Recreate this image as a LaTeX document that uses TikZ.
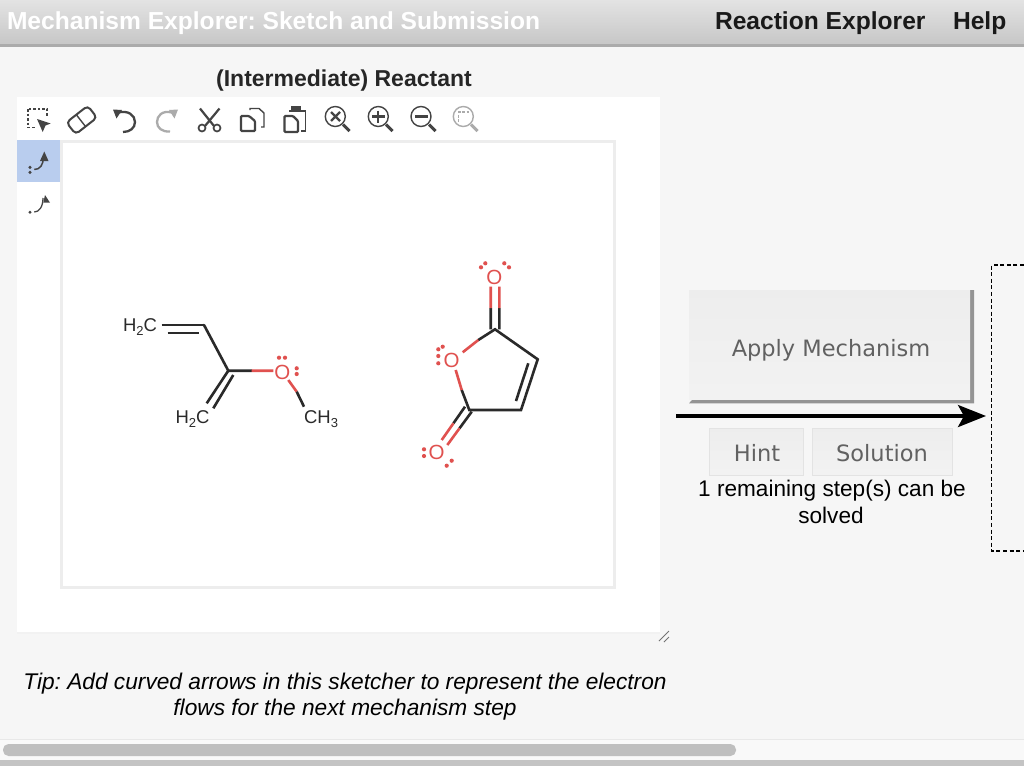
\documentclass[tikz,border=0pt]{standalone}
\usepackage{fontspec}
\setmainfont{Liberation Sans}
\newfontfamily\dejavu{DejaVu Sans}
\usetikzlibrary{arrows.meta}
\definecolor{pagebg}{HTML}{F6F6F6}
\definecolor{atomred}{HTML}{E0514F}
\definecolor{bondblack}{HTML}{2A2A2A}
\definecolor{iconc}{HTML}{444444}
\definecolor{icong}{HTML}{ABABAB}
\definecolor{selblue}{HTML}{B9CDEE}
\newcommand{\fs}[1]{\fontsize{#1}{#1}\selectfont}
\newcommand{\sub}[1]{\raisebox{-4pt}{\fs{13}#1}}
\tikzset{
  txt/.style={inner sep=0pt,outer sep=0pt,anchor=center},
  titlebold/.style={txt,font=\fs{24.6}\bfseries\frenchspacing},
  subbold/.style={txt,font=\fs{23}\bfseries\frenchspacing},
  bodytext/.style={txt,font=\fs{22.6}\frenchspacing,text=black},
  tiptext/.style={txt,font=\fs{22.7}\itshape\frenchspacing,text=black},
  btntext/.style={txt,font=\dejavu\fs{22.5},text=black!62},
  atomlabel/.style={txt,font=\fs{18.5},text=bondblack},
  oxygen/.style={txt,font=\fs{20.5},text=atomred},
  bond/.style={draw=bondblack,line width=2.6pt},
  rbond/.style={draw=atomred,line width=2.6pt},
  lp/.style={fill=atomred,draw=none},
  icon/.style={draw=iconc,line width=1.8pt},
  igray/.style={draw=icong,line width=2pt},
}
\begin{document}
\begin{tikzpicture}[x=1pt,y=-1pt]
\useasboundingbox (0,0) rectangle (1024,766);
\fill[pagebg] (0,0) rectangle (1024,766);
% header
\shade[top color=black!11,bottom color=black!22] (0,0) rectangle (1024,44);
\fill[black!33] (0,44) rectangle (1024,47);
\node[titlebold,text=white,anchor=west] (title) at (7,23) {Mechanism Explorer: Sketch and Submission};
\node[titlebold,text=black!90,anchor=west] (rex) at (715,23) {Reaction Explorer};
\node[titlebold,text=black!90,anchor=west] (help) at (953,23) {Help};
\node[subbold,text=black!85] (rt) at (344,80.5) {(Intermediate) Reactant};
% panel
\fill[black!5] (17,632) rectangle (660,634);
\fill[white] (17,97) rectangle (660,632);
\fill[black!6] (17,140) rectangle (616,142);
\fill[selblue] (17,140) rectangle (60,182);
\draw[black!7,line width=3pt] (61.5,141.5) rectangle (614.5,587.5);
\draw[black!55,line width=.9pt] (659,641) -- (669,631) (664,642) -- (669,637);
% select icon
\draw[iconc,line width=1.3pt,dash pattern=on 2.5pt off 2pt] (28,109) rectangle (47,127.5);
\fill[white] (36,118) rectangle (52,133);
\fill[iconc] (37,119) -- (50.7,123.5) -- (45.5,125.5) -- (42.7,132) -- cycle;
% eraser
\begin{scope}[shift={(81.7,120)},rotate=38]
\draw[icon,line width=2pt,rounded corners=4pt] (-13.5,-7.5) rectangle (13.5,7.5);
\draw[icon,line width=1.4pt] (-1,-7.5) -- (-1,7.5);
\end{scope}
% undo
\draw[icon,line width=2.3pt] (118,112.5) .. controls (128,110) and (135,115) .. (135,122) .. controls (135,128) and (130,132) .. (123,132);
\fill[iconc] (113,109.5) -- (122,110) -- (116.5,118.5) -- cycle;
% redo
\draw[igray,line width=2.3pt] (172,112.5) .. controls (162,110) and (157,116) .. (157,122) .. controls (157,128) and (162,132) .. (170,131.5);
\fill[icong] (178,109.5) -- (169,110) -- (174.5,118.5) -- cycle;
% scissors
\draw[icon,line width=2.2pt] (200,108.5) -- (214,126) (219.5,108.5) -- (205,126);
\draw[icon,line width=1.7pt] (202,128) circle[radius=3.5] (217,128) circle[radius=3.5];
% copy
\draw[icon,line width=1.4pt] (250,110) -- (250,108.5) -- (259,108.5) -- (264,113) -- (264,127) -- (261,127);
\fill[white] (240,114) rectangle (256,132);
\draw[icon,line width=2.2pt,rounded corners=1pt] (241,116) -- (249,116) -- (255,121) -- (255,131) -- (241,131) -- cycle;
% paste
\fill[iconc] (291,106) rectangle (301,111);
\draw[icon,line width=1.4pt] (289,111) -- (305.5,111) -- (305.5,131) -- (301,131);
\draw[icon,line width=2.2pt,rounded corners=1pt] (284.5,116) -- (293,116) -- (298,121) -- (298,132) -- (284.5,132) -- cycle;
% zooms
\draw[icon,line width=1.4pt] (335.3,116.5) circle[radius=10];
\draw[iconc,line width=3pt] (343,124.5) -- (349.5,131);
\draw[iconc,line width=2.2pt] (331,112) -- (340,121) (340,112) -- (331,121);
\draw[icon,line width=1.4pt] (378.3,116.5) circle[radius=10];
\draw[iconc,line width=3pt] (386,124.5) -- (392.5,131);
\draw[iconc,line width=2.2pt] (372,116.5) -- (384.5,116.5) (378.3,110.5) -- (378.3,122.5);
\draw[icon,line width=1.4pt] (421,116.5) circle[radius=10];
\draw[iconc,line width=3pt] (429,124.5) -- (435.5,131);
\draw[iconc,line width=2.2pt] (415,116.5) -- (427.5,116.5);
\draw[igray,line width=1.4pt] (463.3,116.5) circle[radius=10];
\draw[icong,line width=3pt] (471,124.5) -- (477.5,131);
\draw[icong,line width=1.2pt,dash pattern=on 3pt off 1.5pt] (458.5,122) -- (458.5,112) -- (469,112);
% curved arrow tools
\fill[iconc] (30,167.3) circle[radius=1.7] (30,172.3) circle[radius=1.7];
\draw[iconc,line width=1.5pt] (34.3,169.5) .. controls (40,169.5) and (43,165) .. (43.5,158);
\fill[iconc] (44.3,151.5) -- (48.5,161) -- (40,161) -- cycle;
\fill[iconc] (30,212.3) circle[radius=1.6];
\draw[iconc,line width=1.3pt] (34.3,212) .. controls (39,212) and (43,207) .. (43,198);
\fill[iconc] (45,195) -- (50,202.7) -- (43.3,202.7) -- cycle;
% molecule 1
\coordinate (a1) at (161.7,325); \coordinate (a2) at (204,325);
\coordinate (a1i) at (167.7,333); \coordinate (a2i) at (199.3,333);
\coordinate (a3) at (228.3,370.7); \coordinate (a3m) at (251.7,370.7); \coordinate (a3o) at (273.3,370.7);
\coordinate (a3i) at (233.3,375);
\coordinate (a4) at (206.7,403.3); \coordinate (a4i) at (213.3,408.3);
\coordinate (o1a) at (288.3,380); \coordinate (o1m) at (296.7,391.7); \coordinate (me) at (304,406.7);
\draw[bond] (a1) -- (a2) (a1i) -- (a2i);
\draw[bond,line cap=round] (a2) -- (a3) -- (a3m);
\draw[bond] (a3) -- (a4) (a3i) -- (a4i);
\draw[rbond] (a3m) -- (a3o) (o1a) -- (o1m);
\draw[bond] (o1m) -- (me);
\node[atomlabel] (h2c1) at (140,327) {H\sub{2}C};
\node[atomlabel] (h2c2) at (192.5,419) {H\sub{2}C};
\node[atomlabel] (ch3) at (321,419) {CH\sub{3}};
\node[oxygen] (o1) at (282.3,372) {O};
\fill[lp] (279,357.7) circle[radius=2.1] (285,357.7) circle[radius=2.1] (296.7,368.3) circle[radius=2.1] (296.7,374) circle[radius=2.1];
% molecule 2
\coordinate (c1) at (495,329.3); \coordinate (c2) at (537.7,359.3); \coordinate (c3) at (521,410); \coordinate (c4) at (469.3,410);
\coordinate (c2i) at (528.3,363.3); \coordinate (c3i) at (516,401);
\coordinate (d1a) at (490.7,329.3); \coordinate (d1b) at (490.7,308); \coordinate (d1c) at (490.7,286.7);
\coordinate (d2a) at (499.3,329.3); \coordinate (d2b) at (499.3,308); \coordinate (d2c) at (499.3,286.7);
\coordinate (r1) at (478.3,340); \coordinate (r2) at (462.7,352.3);
\coordinate (r3) at (455.7,370); \coordinate (r4) at (461.7,390);
\coordinate (e1a) at (465,406.7); \coordinate (e1b) at (453.4,423.3); \coordinate (e1c) at (441.7,440);
\coordinate (e2a) at (471.7,411.7); \coordinate (e2b) at (459.5,428.3); \coordinate (e2c) at (447.3,445);
\draw[bond,line cap=round] (r1) -- (c1) -- (c2) -- (c3) -- (c4) -- (r4);
\draw[bond] (c2i) -- (c3i) (d1a) -- (d1b) (d2a) -- (d2b) (e1a) -- (e1b) (e2a) -- (e2b);
\draw[rbond] (r1) -- (r2) (r3) -- (r4) (d1b) -- (d1c) (d2b) -- (d2c) (e1b) -- (e1c) (e2b) -- (e2c);
\node[oxygen] (o2) at (494.3,277) {O};
\node[oxygen] (o3) at (451.7,360.5) {O};
\node[oxygen] (o4) at (436.7,452.5) {O};
\fill[lp] (481,267.3) circle[radius=2.1] (485.3,263.3) circle[radius=2.1] (504.3,263.3) circle[radius=2.1] (509,267.3) circle[radius=2.1];
\fill[lp] (438.3,356) circle[radius=2.1] (438.3,363.3) circle[radius=2.1] (438.3,349.3) circle[radius=2.1] (442.7,346.7) circle[radius=2.1];
\fill[lp] (424,449.3) circle[radius=2.1] (424,456) circle[radius=2.1] (446.7,465.7) circle[radius=2.1] (451.7,460.7) circle[radius=2.1];
% apply button
\fill[black!42] (689,403.3) -- (693,399) -- (970,290) -- (974,290) -- (974,403.3) -- cycle;
\shade[top color=black!7,bottom color=black!5] (689,290) rectangle (970,399);
\node[btntext] (apply) at (831,350.5) {Apply Mechanism};
% arrow
\coordinate (ar1) at (676,416); \coordinate (ar2) at (986,416);
\draw[black,line width=3.4pt,-{Stealth[length=28pt,width=22pt,inset=6pt]}] (ar1) -- (ar2);
% small buttons
\shade[draw=black!11,line width=1pt,top color=black!7,bottom color=black!5] (709.5,428.5) rectangle (803.5,475.5);
\node[btntext] (hint) at (757,453) {Hint};
\shade[draw=black!11,line width=1pt,top color=black!7,bottom color=black!5] (812.5,428.5) rectangle (952.5,475.5);
\node[btntext] (sol) at (882,453) {Solution};
\node[bodytext] (rem1) at (832,491) {1 remaining step(s) can be};
\node[bodytext] (rem2) at (831,515) {solved};
% dashed box
\draw[black,line width=1.2pt,dash pattern=on 4pt off 2.6pt] (1024,265) -- (991.5,265) -- (991.5,551) -- (1024,551);
% tip
\node[tiptext] (tip1) at (345,684) {Tip: Add curved arrows in this sketcher to represent the electron};
\node[tiptext] (tip2) at (345,710) {flows for the next mechanism step};
% bottom bar
\fill[black!9] (0,739) rectangle (1024,740);
\fill[black!2.5] (0,740) rectangle (1024,760);
\fill[black!25,rounded corners=5.5pt] (3,744) rectangle (736,756);
\fill[black!23] (0,760) rectangle (1024,766);
\end{tikzpicture}
\end{document}
